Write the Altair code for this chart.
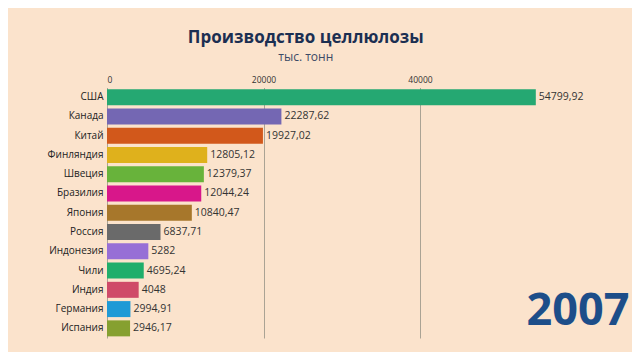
import altair as alt
import pandas as pd

countries = ["США", "Канада", "Китай", "Финляндия", "Швеция", "Бразилия", "Япония",
             "Россия", "Индонезия", "Чили", "Индия", "Германия", "Испания"]
values = [54799.92, 22287.62, 19927.02, 12805.12, 12379.37, 12044.24, 10840.47,
          6837.71, 5282, 4695.24, 4048, 2994.91, 2946.17]
colors = ["#25a872", "#7467b3", "#d2581b", "#dfb11c", "#68b33b", "#d8178a", "#a7772b",
          "#6a6a6a", "#976fd6", "#20ae6b", "#cf4a68", "#1f9ad6", "#86a030"]
year = "2007"
x_ticks = [0, 20000, 40000]

df = pd.DataFrame({"country": countries, "value": values, "color": colors})
df["label"] = [(f"{v:.2f}".rstrip("0").rstrip(".")).replace(".", ",") for v in values]

bg = "#fbe3cc"
font = "Open Sans"

x = alt.X("value:Q", scale=alt.Scale(domain=[0, 60000]),
          axis=alt.Axis(orient="top", values=x_ticks, format="d", ticks=False, domain=False,
                        title=None, labelFontSize=8.5, labelColor="#333333",
                        labelPadding=3, grid=True, gridColor="#aaa394", gridWidth=1,
                        labelFont=font))
y = alt.Y("country:N", sort=countries,
          scale=alt.Scale(paddingInner=0.17, paddingOuter=0.085),
          axis=alt.Axis(title=None, ticks=False, domain=False, grid=False, labelFontSize=10,
                        labelColor="#222222", labelPadding=4, labelFont=font,
                        labelFontWeight=500))

bars = alt.Chart(df).mark_bar().encode(
    x=x, y=y, color=alt.Color("color:N", scale=None))

texts = alt.Chart(df).mark_text(align="left", baseline="middle", dx=3,
                                fontSize=10.5, color="#333333", font=font).encode(
    x="value:Q", y=alt.Y("country:N", sort=countries), text="label:N")

yr = alt.Chart(pd.DataFrame({"year": [year]})).mark_text(
    align="center", baseline="alphabetic", fontSize=45, fontWeight="bold",
    color="#1d4e89", font=font).encode(
    x=alt.value(471), y=alt.value(237), text="year:N")

chart = alt.layer(bars, texts, yr).properties(
    width=469.5, height=250.5,
    autosize=alt.AutoSizeParams(type="none"),
    padding={"left": 99, "top": 79.5, "right": 55, "bottom": 14},
    background=bg,
    title=alt.TitleParams(
        "Производство целлюлозы", subtitle="тыс. тонн",
        fontSize=17, fontWeight="bold", color="#1b2f52", font=font,
        subtitleFontSize=12, subtitleColor="#3c4a66", subtitleFont=font,
        subtitleFontWeight=500, subtitlePadding=5, anchor="middle", dx=-36, offset=12),
).configure_view(stroke=None)

chart.save("out.html", embed_options={"renderer": "svg", "actions": False})
